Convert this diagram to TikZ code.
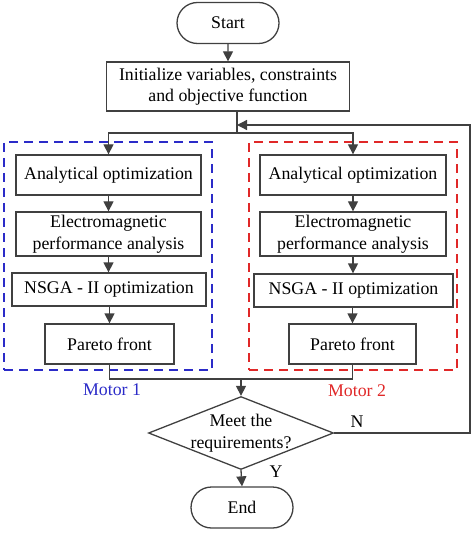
\documentclass[tikz,border=0pt]{standalone}
\usepackage{fontspec}
\setmainfont{Liberation Serif}
\usetikzlibrary{arrows.meta,shapes.misc,shapes.geometric}
\definecolor{ln}{HTML}{404040}
\definecolor{mblue}{HTML}{2B2BC8}
\definecolor{mred}{HTML}{E02828}
\begin{document}
\begin{tikzpicture}[x=1pt,y=-1pt,
  every node/.style={font=\fontsize{17.8}{21.5}\selectfont, align=center, inner sep=0pt},
  box/.style={draw=ln, line width=1.3pt, fill=white, rectangle},
  term/.style={draw=ln, line width=1.3pt, rounded rectangle, minimum width=102, minimum height=41},
  dia/.style={draw=ln, line width=1.3pt, diamond, minimum width=185, minimum height=73},
  arr/.style={draw=ln, line width=1.3pt, -{Triangle[length=10pt,width=10pt]}},
  con/.style={draw=ln, line width=1.3pt},
  grp/.style={draw, line width=1.4pt, dash pattern=on 9pt off 6pt, rectangle}]
\useasboundingbox (0,0) rectangle (474,534);
% groups
\node[grp, draw=mblue, minimum width=208, minimum height=228] (g1) at (108,256) {};
\node[grp, draw=mred, minimum width=208, minimum height=228] (g2) at (353,256) {};
% terminals and boxes
\node[term] (start) at (228,23) {Start};
\node[box, minimum width=243, minimum height=49] (init) at (228,86.5) {Initialize variables, constraints\\and objective function};
\node[box, minimum width=185, minimum height=40] (a1) at (108.5,175) {Analytical optimization};
\node[box, minimum width=185, minimum height=44] (e1) at (108.5,234) {Electromagnetic\\performance analysis};
\node[box, minimum width=194, minimum height=33] (n1) at (109,289.5) {NSGA - II optimization};
\node[box, minimum width=129, minimum height=40] (p1) at (109.5,344) {Pareto front};
\node[box, minimum width=186, minimum height=40] (a2) at (353,175) {Analytical optimization};
\node[box, minimum width=186, minimum height=44] (e2) at (353,234) {Electromagnetic\\performance analysis};
\node[box, minimum width=199, minimum height=33] (n2) at (353.5,290.5) {NSGA - II optimization};
\node[box, minimum width=127, minimum height=40] (p2) at (352.5,344) {Pareto front};
\node[dia] (dec) at (241,433) {};
\node (dect) at (dec.center) {Meet the\\requirements?};
\node[term] (end) at (242,507.5) {End};
% labels
\node[text=mblue] (m1) at (112,390) {Motor 1};
\node[text=mred] (m2) at (357,391) {Motor 2};
\node (nlab) at (357,422) {N};
\node (ylab) at (276,472) {Y};
% coordinates
\coordinate (j1) at (237,133);
\coordinate (fb) at (237,125);
\coordinate (fr) at (470,125);
\coordinate (mj) at (241,379);
% connectors
\draw[arr] (start) -- (init);
\draw[con] (init.south -| j1) -- (j1);
\draw[arr] (j1) -| (a1.north);
\draw[arr] (j1) -| (a2.north);
\draw[arr] (a1) -- (e1);
\draw[arr] (e1) -- (n1.north -| e1.south);
\draw[arr] (n1.south -| p1.north) -- (p1);
\draw[arr] (a2) -- (e2);
\draw[arr] (e2) -- (n2.north -| e2.south);
\draw[arr] (n2.south -| p2.north) -- (p2);
\draw[con] (p1.south) |- (mj) -| (p2.south);
\draw[arr] (mj) -- (dec.north);
\draw[arr] (dec.east) -| (fr) -- (fb);
\draw[arr] (dec.south) -- (end.north);
\end{tikzpicture}
\end{document}
